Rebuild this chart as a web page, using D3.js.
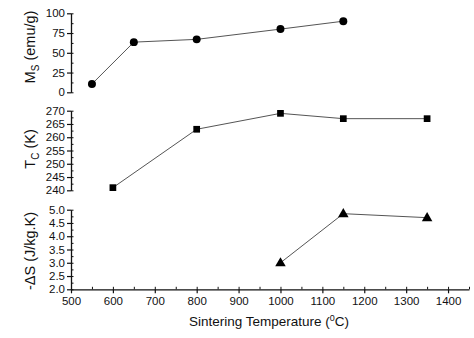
<!DOCTYPE html>
<html><head><meta charset="utf-8">
<script src="https://cdn.jsdelivr.net/npm/d3@7"></script>
<style>
body{margin:0;background:#fff;}
text{font-family:"Liberation Sans",Arial,sans-serif;fill:#111;}
</style></head>
<body><svg id="c" width="474" height="338"></svg>
<script>
// Data
const msTemps = [550, 650, 800, 1000, 1150];
const msValues = [10.5, 63.5, 67, 80, 90];
const tcTemps = [600, 800, 1000, 1150, 1350];
const tcValues = [241, 263, 269, 267, 267];
const dsTemps = [1000, 1150, 1350];
const dsValues = [3.0, 4.85, 4.7];
const xTicks = [500, 600, 700, 800, 900, 1000, 1100, 1200, 1300, 1400];
const msTicks = [0, 25, 50, 75, 100];
const tcTicks = [240, 245, 250, 255, 260, 265, 270];
const dsTicks = [2.0, 2.5, 3.0, 3.5, 4.0, 4.5, 5.0];

const svg = d3.select("#c");
const x = d3.scaleLinear().domain([500, 1450]).range([71, 469]);
const lineColor = "#555";

const panels = [
  {temps: msTemps, vals: msValues, ticks: msTicks, domain:[0,100], range:[92.3,13.3], minor:12.5, fmt:d3.format("d"), marker:"circle", label:["M","S"," (emu/g)"], cy:47},
  {temps: tcTemps, vals: tcValues, ticks: tcTicks, domain:[240,270], range:[190.3,110.7], minor:2.5, fmt:d3.format("d"), marker:"square", label:["T","C"," (K)"], cy:149},
  {temps: dsTemps, vals: dsValues, ticks: dsTicks, domain:[2,5], range:[289.3,209.7], minor:0.25, fmt:d3.format(".1f"), marker:"triangle", label:["-ΔS (J/kg.K)"], cy:251}
];

panels.forEach(p => {
  const y = d3.scaleLinear().domain(p.domain).range(p.range);
  const g = svg.append("g");
  const minors = d3.range(p.domain[0], p.domain[1] + 1e-9, p.minor);
  g.append("g").attr("transform", "translate(71,0)")
    .call(d3.axisRight(y).tickValues(minors).tickSize(2.5).tickFormat(""))
    .call(s => s.select(".domain").remove())
    .selectAll("line").attr("stroke", "#111");
  const ax = g.append("g").attr("transform", "translate(71,0)")
    .call(d3.axisLeft(y).tickValues(p.ticks).tickSize(4).tickSizeOuter(0).tickPadding(2).tickFormat(p.fmt));
  ax.select(".domain").attr("stroke", "#111").attr("stroke-width", 1.3);
  ax.selectAll(".tick line").attr("stroke", "#111").attr("stroke-width", 1.2);
  ax.selectAll("text").style("font-size", "11.5px").style("font-family", "Liberation Sans, Arial, sans-serif").attr("fill", "#111");

  const pts = p.temps.map((t, i) => [t, p.vals[i]]);
  g.append("path").datum(pts)
    .attr("d", d3.line().x(d => x(d[0])).y(d => y(d[1])))
    .attr("fill", "none").attr("stroke", lineColor).attr("stroke-width", 1);
  const sym = p.marker === "circle" ? d3.symbolCircle : p.marker === "square" ? d3.symbolSquare : d3.symbolTriangle;
  const size = p.marker === "circle" ? 50 : p.marker === "square" ? 45 : 48;
  g.selectAll(".m").data(pts).enter().append("path")
    .attr("d", d3.symbol().type(sym).size(size))
    .attr("transform", d => `translate(${x(d[0])},${y(d[1]) + (p.marker === "triangle" ? 0.5 : 0)})`)
    .attr("fill", "#000");

  const t = svg.append("text")
    .attr("transform", `translate(35,${p.cy}) rotate(-90)`)
    .attr("text-anchor", "middle").style("font-size", "14.5px");
  if (p.label.length === 3) {
    t.append("tspan").text(p.label[0]);
    t.append("tspan").attr("dy", 4).style("font-size", "10px").text(p.label[1]);
    t.append("tspan").attr("dy", -4).text(p.label[2]);
  } else {
    t.text(p.label[0]);
  }
});

const xMinor = d3.range(500, 1451, 50);
svg.append("g").attr("transform", "translate(0,289.3)")
  .call(d3.axisTop(x).tickValues(xMinor).tickSize(2.5).tickFormat(""))
  .call(s => s.select(".domain").remove())
  .selectAll("line").attr("stroke", "#111");
const xa = svg.append("g").attr("transform", "translate(0,289.3)")
  .call(d3.axisBottom(x).tickValues(xTicks).tickSize(4).tickSizeOuter(0).tickPadding(4).tickFormat(d3.format("d")));
xa.select(".domain").attr("stroke", "#111").attr("stroke-width", 1.3);
xa.selectAll(".tick line").attr("stroke", "#111").attr("stroke-width", 1.2);
xa.selectAll("text").style("font-size", "11.5px").style("font-family", "Liberation Sans, Arial, sans-serif").attr("fill", "#111");

const xl = svg.append("text").attr("x", 269).attr("y", 326).attr("text-anchor", "middle").style("font-size", "13.5px");
xl.append("tspan").text("Sintering Temperature (");
xl.append("tspan").attr("dy", -5).style("font-size", "9px").text("0");
xl.append("tspan").attr("dy", 5).text("C)");
</script></body></html>
